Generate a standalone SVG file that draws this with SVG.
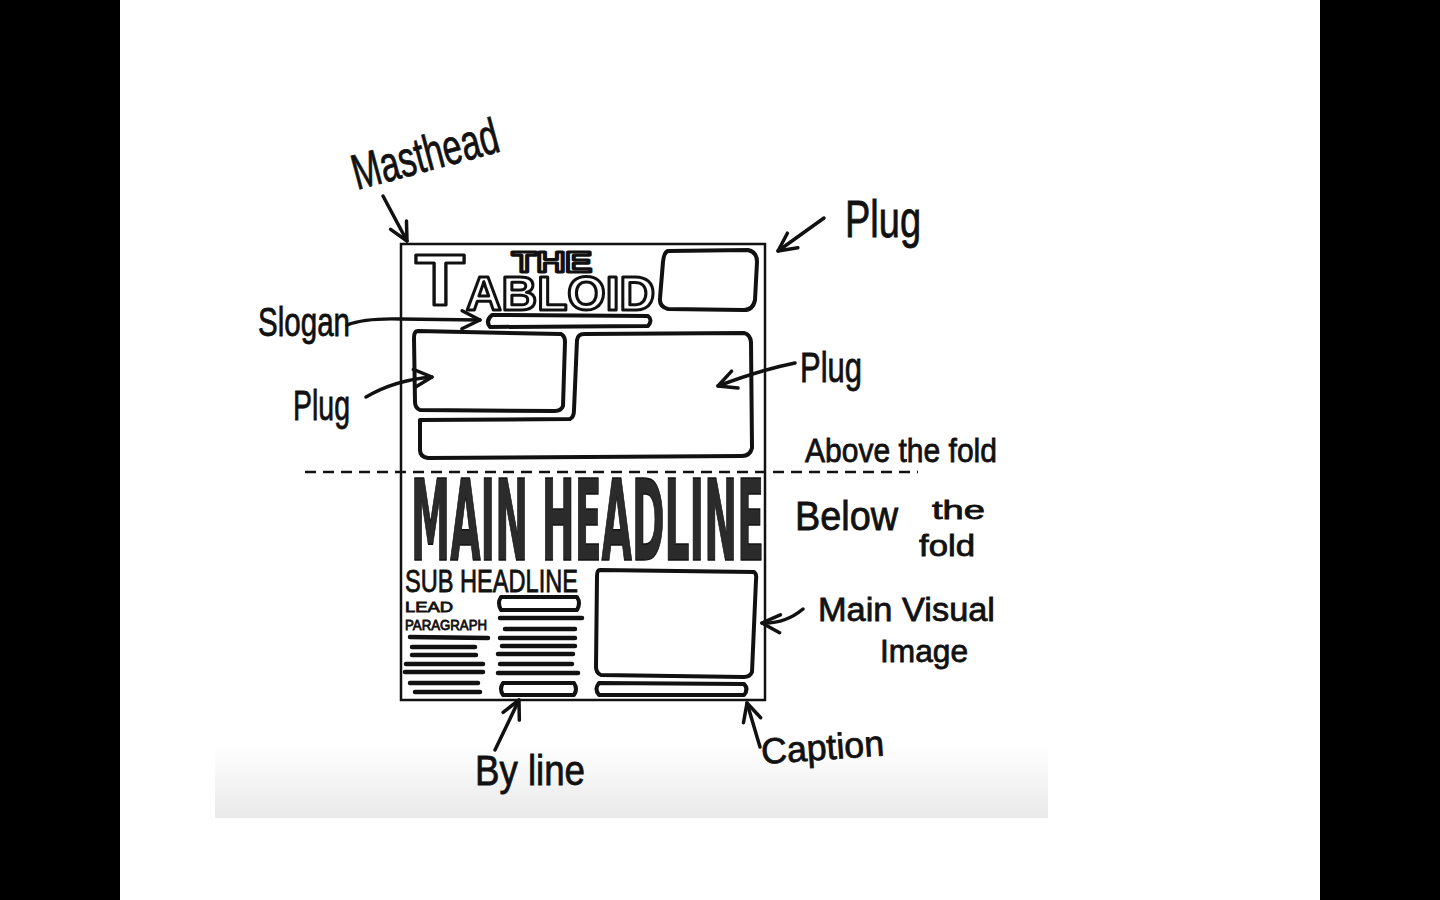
<svg xmlns="http://www.w3.org/2000/svg" width="1440" height="900" viewBox="0 0 1440 900">
<defs>
<linearGradient id="scanfade" x1="0" y1="0" x2="0" y2="1">
<stop offset="0" stop-color="#ffffff"/>
<stop offset="1" stop-color="#e9e9e9"/>
</linearGradient>
<marker id="arr" viewBox="0 0 24 24" refX="21" refY="12" markerWidth="24" markerHeight="24" markerUnits="userSpaceOnUse" orient="auto">
<path d="M3,3 L21,12 L3,21" fill="none" stroke="#111" stroke-width="3.5" stroke-linecap="round" stroke-linejoin="round"/>
</marker>
<style>
.ink{fill:none;stroke:#111;stroke-width:4;stroke-linecap:round;stroke-linejoin:round}
.thin{fill:none;stroke:#111;stroke-width:2.5}
.bar{fill:none;stroke:#111;stroke-width:4.5;stroke-linecap:round}
.hand{font-family:"Liberation Sans","DejaVu Sans",sans-serif;fill:#111;stroke:#111;stroke-width:0.8}
.outl{font-family:"Liberation Sans","DejaVu Sans",sans-serif;font-weight:bold;fill:#fff;stroke:#111;stroke-width:3;stroke-linejoin:round}
.conn{fill:none;stroke:#111;stroke-width:3.5;stroke-linecap:round;marker-end:url(#arr)}
</style>
</defs>
<rect x="0" y="0" width="1440" height="900" fill="#fff"/>
<rect x="0" y="0" width="120" height="900" fill="#000"/>
<rect x="1320" y="0" width="120" height="900" fill="#000"/>
<rect x="215" y="745" width="833" height="73" fill="url(#scanfade)"/>

<g id="page">
<rect x="401" y="244" width="364" height="456" class="thin"/>
</g>

<g id="masthead">
<text class="outl"><tspan x="415" y="305" font-size="72" textLength="50" lengthAdjust="spacingAndGlyphs">T</tspan><tspan x="512" y="272" font-size="29" textLength="80" lengthAdjust="spacingAndGlyphs">THE</tspan><tspan x="466" y="310" font-size="48" textLength="189" lengthAdjust="spacingAndGlyphs">ABLOID</tspan></text>
</g>

<g id="plug-top-box">
<path d="M668,251 L748,250 Q757,252 757,262 L755,300 Q753,310 744,310 L668,309 Q659,307 660,298 L663,262 Q664,252 668,251 Z" class="ink"/>
</g>

<g id="slogan-bar">
<path d="M492,315 L648,316 Q653,320 648,326 L490,327 Q485,321 492,315 Z" class="ink"/>
</g>

<g id="plug-left-box">
<path d="M418,331 L561,334 Q565,336 565,342 L563,406 Q561,411 555,411 L420,410 Q415,408 415,402 L414,338 Q414,331 418,331 Z" class="ink"/>
</g>

<g id="plug-right-box">
<path d="M420,420 L570,419 Q574,417 574,410 L577,340 Q578,334 584,334 L744,333 Q750,334 751,342 L752,448 Q750,456 742,456 L428,458 Q420,457 420,450 Z" class="ink"/>
</g>

<g id="fold-line">
<line x1="305" y1="472" x2="918" y2="472" stroke="#111" stroke-width="2.5" stroke-dasharray="11 7"/>
</g>

<g id="main-headline">
<text x="411" y="560" font-family="'Liberation Sans Narrow','DejaVu Sans Condensed','Liberation Sans',sans-serif" font-weight="bold" font-size="112" fill="#2b2b2b" stroke="#111" stroke-width="1.5" textLength="353" lengthAdjust="spacingAndGlyphs">MAIN HEADLINE</text>
</g>

<g id="sub-headline">
<text x="405" y="592" class="hand" font-size="31" textLength="173" lengthAdjust="spacingAndGlyphs">SUB HEADLINE</text>
</g>

<g id="lead-paragraph">
<text class="hand" font-size="14" stroke-width="0.2"><tspan x="405" y="612" textLength="48" lengthAdjust="spacingAndGlyphs">LEAD</tspan><tspan x="405" y="630" textLength="82" lengthAdjust="spacingAndGlyphs">PARAGRAPH</tspan></text>
<path d="M410,637 L488,638 M412,647 L475,647 M412,655 L476,655 M406,664 L483,664 M405,672 L483,672 M410,683 L478,683 M415,692 L480,692" class="bar"/>
</g>

<g id="body-column">
<path d="M501,597 L577,597 Q581,603 577,610 L501,610 Q497,603 501,597 Z" class="ink"/>
<path d="M500,618 L582,618 M505,629 L575,629 M500,638 L575,638 M502,646 L575,646 M498,654 L573,654 M500,664 L572,664 M498,673 L578,673" class="bar"/>
</g>

<g id="main-image">
<path d="M600,570 L754,572 Q757,574 756,580 L752,672 Q750,677 744,677 L601,675 Q596,673 596,667 L597,576 Q597,570 600,570 Z" class="ink"/>
</g>

<g id="byline-bar">
<path d="M503,683 L574,683 Q578,689 574,695 L503,695 Q499,689 503,683 Z" class="ink"/>
</g>

<g id="caption-bar">
<path d="M599,683 L744,684 Q749,689 744,695 L599,695 Q594,689 599,683 Z" class="ink"/>
</g>

<g id="label-masthead">
<text x="357" y="190" class="hand" font-size="50" textLength="150" lengthAdjust="spacingAndGlyphs" transform="rotate(-15 357 190)">Masthead</text>
</g>
<g id="label-plug-top">
<text x="845" y="237" class="hand" font-size="52" textLength="76" lengthAdjust="spacingAndGlyphs">Plug</text>
</g>
<g id="label-slogan">
<text x="258" y="336" class="hand" font-size="40" textLength="92" lengthAdjust="spacingAndGlyphs">Slogan</text>
</g>
<g id="label-plug-left">
<text x="293" y="420" class="hand" font-size="42" textLength="57" lengthAdjust="spacingAndGlyphs">Plug</text>
</g>
<g id="label-plug-right">
<text x="800" y="382" class="hand" font-size="42" textLength="62" lengthAdjust="spacingAndGlyphs">Plug</text>
</g>
<g id="label-above-fold">
<text x="805" y="462" class="hand" font-size="34" textLength="192" lengthAdjust="spacingAndGlyphs">Above the fold</text>
</g>
<g id="label-below-fold">
<text x="795" y="530" class="hand" font-size="40" textLength="103" lengthAdjust="spacingAndGlyphs">Below</text>
<text x="932" y="519" class="hand" font-size="26" textLength="53" lengthAdjust="spacingAndGlyphs">the</text>
<text x="919" y="556" class="hand" font-size="29" textLength="56" lengthAdjust="spacingAndGlyphs">fold</text>
</g>
<g id="label-main-visual">
<text x="818" y="621" class="hand" font-size="34" textLength="177" lengthAdjust="spacingAndGlyphs">Main Visual</text>
<text x="880" y="662" class="hand" font-size="32" textLength="88" lengthAdjust="spacingAndGlyphs">Image</text>
</g>
<g id="label-byline">
<text x="475" y="785" class="hand" font-size="42" textLength="110" lengthAdjust="spacingAndGlyphs">By line</text>
</g>
<g id="label-caption">
<text x="762" y="764" class="hand" font-size="36" textLength="123" lengthAdjust="spacingAndGlyphs" transform="rotate(-4 762 764)">Caption</text>
</g>

<g id="connectors">
<path d="M383,196 L407,241" class="conn"/>
<path d="M824,218 L778,251" class="conn"/>
<path d="M347,325 Q365,318 400,319 L480,320" class="conn"/>
<path d="M366,397 Q395,380 432,377" class="conn"/>
<path d="M795,363 Q760,370 718,386" class="conn"/>
<path d="M803,609 Q785,624 762,623" class="conn"/>
<path d="M495,750 L519,700" class="conn"/>
<path d="M760,747 L747,703" class="conn"/>
</g>
</svg>
